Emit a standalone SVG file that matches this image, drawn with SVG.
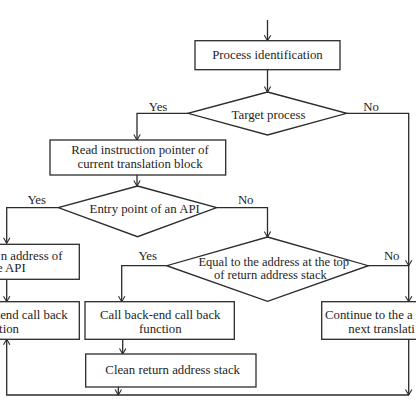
<svg xmlns="http://www.w3.org/2000/svg" width="416" height="416" viewBox="0 0 416 416">
<style>
.box{fill:#fff;stroke:#2b2b2b;stroke-width:1.3}
.ln{fill:none;stroke:#2b2b2b;stroke-width:1.3}
text{font-family:"Liberation Serif","Times New Roman",serif;font-size:12.8px;fill:#1e1e1e}
.c{text-anchor:middle}
.e{text-anchor:end}
.s{font-size:12.5px}
</style>
<defs>
<marker id="ah" viewBox="0 0 8 8" refX="7" refY="4" markerWidth="8" markerHeight="8" markerUnits="userSpaceOnUse" orient="auto">
<path d="M1.5,0.8 L7,4 L1.5,7.2" fill="none" stroke="#2b2b2b" stroke-width="1.1"/>
</marker>
</defs>
<rect width="416" height="416" fill="#fff"/>
<g id="connectors">
<path class="ln" d="M267.5,20 V40.7" marker-end="url(#ah)"/>
<path class="ln" d="M267.5,69.7 V92" marker-end="url(#ah)"/>
<path class="ln" d="M188,113.3 H137 V140" marker-end="url(#ah)"/>
<path class="ln" d="M346.7,113.3 H408.7 V265.7" marker-end="url(#ah)"/>
<path class="ln" d="M408.7,265.7 V301.7" marker-end="url(#ah)"/>
<path class="ln" d="M137,175 V186" marker-end="url(#ah)"/>
<path class="ln" d="M58.3,207.7 H6.7 V243.3" marker-end="url(#ah)"/>
<path class="ln" d="M216.7,207.7 H267.5 V237" marker-end="url(#ah)"/>
<path class="ln" d="M166.7,265.7 H121.7 V301.7" marker-end="url(#ah)"/>
<path class="ln" d="M368.3,265.7 H408.7"/>
<path class="ln" d="M6.7,279.3 V301.7" marker-end="url(#ah)"/>
<path class="ln" d="M122.7,339.3 V354" marker-end="url(#ah)"/>
<path class="ln" d="M118.3,387 V395" marker-end="url(#ah)"/>
<path class="ln" d="M408.7,339.3 V395" marker-end="url(#ah)"/>
<path class="ln" d="M408.7,395 H6.7 V339.3" marker-end="url(#ah)"/>
</g>
<g id="process-identification">
<rect class="box" x="195" y="40.7" width="145" height="29"/>
<text class="c" x="267.5" y="59">Process identification</text>
</g>
<g id="target-process">
<polygon class="box" points="267.5,92 346.7,113.3 267.5,135 188,113.3"/>
<text class="c" x="268.5" y="118.5">Target process</text>
<text class="c" x="158" y="110.5">Yes</text>
<text class="c" x="371" y="110.5">No</text>
</g>
<g id="read-instruction-pointer">
<rect class="box" x="50" y="140" width="175.7" height="35"/>
<text class="c" x="140" y="154.3">Read instruction pointer of</text>
<text class="c" x="140" y="167.5">current translation block</text>
</g>
<g id="entry-point">
<polygon class="box" points="137.5,186 216.7,207.7 137.5,236.7 58.3,207.7"/>
<text class="c" x="144.7" y="212.7">Entry point of an API</text>
<text class="c" x="36.7" y="204">Yes</text>
<text class="c" x="245.7" y="204">No</text>
</g>
<g id="equal-address">
<polygon class="box" points="267.5,237 368.3,265.7 267.5,301.3 166.7,265.7"/>
<text class="c s" x="273.8" y="266.4">Equal to the address at the top</text>
<text class="c s" x="270.3" y="278.8">of return address stack</text>
<text class="c" x="147.7" y="260">Yes</text>
<text class="c" x="391.7" y="260">No</text>
</g>
<g id="return-address-api">
<rect class="box" x="-60" y="244.3" width="139.3" height="35"/>
<text class="e" x="62.5" y="259.5">n address of</text>
<text class="e" x="25.7" y="272">e API</text>
</g>
<g id="back-end-call-back-left">
<rect class="box" x="-60" y="301.7" width="139.3" height="37.6"/>
<text class="e" x="67.7" y="319.3">end call back</text>
<text class="e" x="19" y="332.5">nction</text>
</g>
<g id="call-back-end">
<rect class="box" x="85" y="301.7" width="149.3" height="37.6"/>
<text class="c" x="160.3" y="319.3">Call back-end call back</text>
<text class="c" x="160.3" y="332.5">function</text>
</g>
<g id="clean-return-stack">
<rect class="box" x="85.7" y="354" width="170.3" height="33"/>
<text class="c" x="172.7" y="373.5">Clean return address stack</text>
</g>
<g id="continue-next">
<rect class="box" x="321.7" y="301.7" width="140" height="37.6"/>
<text x="325" y="319.3">Continue to the a</text>
<text x="348.3" y="332.5">next translati</text>
</g>
</svg>
